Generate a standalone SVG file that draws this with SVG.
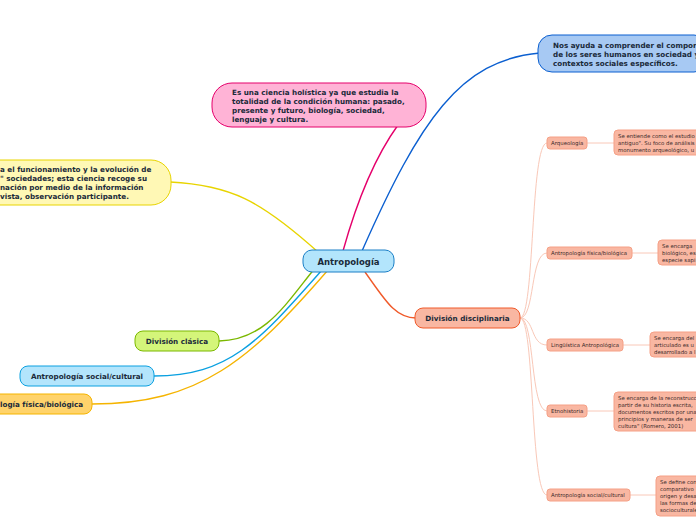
<svg xmlns="http://www.w3.org/2000/svg" width="696" height="520" viewBox="0 0 696 520">
<style>
text{font-family:"DejaVu Sans","Liberation Sans",sans-serif;font-weight:bold;fill:#1a2a3a}
.m{font-size:7.2px}
.s{font-size:5.4px;font-weight:normal;fill:#3a2a2a}
.sub{fill:#f9b7a2;stroke:#f5a086;stroke-width:1}
.sl{fill:none;stroke:#f9c8b8;stroke-width:1}
</style>
<rect width="696" height="520" fill="#fff"/>
<g id="connectors" fill="none" stroke-width="1.4">
<path d="M362 251 C420 120 460 60 540 53" stroke="#0b5fd0"/>
<path d="M343 251 C360 190 380 150 398 125" stroke="#e5006b"/>
<path d="M318 252 C260 200 230 185 170 182" stroke="#e8d400"/>
<path d="M315 268 C285 305 265 340 219 341" stroke="#7bb800"/>
<path d="M322 270 C260 340 230 376 154 376" stroke="#0aa0e0"/>
<path d="M328 270 C250 360 200 404 92 404" stroke="#f5b400"/>
<path d="M365 272 C385 300 395 318 416 318" stroke="#f05a2a"/>
<path class="sl" d="M520 318 C535 318 530 143 547 143"/>
<path class="sl" d="M520 318 C535 318 530 253 547 253"/>
<path class="sl" d="M520 318 C535 318 530 345 547 345"/>
<path class="sl" d="M520 318 C535 318 530 411 547 411"/>
<path class="sl" d="M520 318 C535 318 530 495 547 495"/>
<path class="sl" d="M587 143 H614 M632 253 H658 M623 345 H650 M587 411 H614 M630 495 H656"/>
</g>
<g id="center"><rect x="303" y="250" width="91" height="22" rx="9" fill="#b3e5fc" stroke="#1a7fc6" stroke-width="1"/><text x="348.5" y="264.5" text-anchor="middle" style="font-size:8.5px">Antropología</text></g>
<g id="n-blue"><rect x="538" y="35" width="170" height="37" rx="14" fill="#a7c9f3" stroke="#0b5fd0" stroke-width="1"/><text class="m" x="553" y="48">Nos ayuda a comprender el comportamiento</text><text class="m" x="553" y="57">de los seres humanos en sociedad y en</text><text class="m" x="553" y="66">contextos sociales específicos.</text></g>
<g id="n-pink"><rect x="212" y="83" width="214" height="44" rx="20" fill="#ffb3d6" stroke="#e5006b" stroke-width="1"/><text class="m" x="232" y="95">Es una ciencia holística ya que estudia la</text><text class="m" x="232" y="104">totalidad de la condición humana: pasado,</text><text class="m" x="232" y="113">presente y futuro, biología, sociedad,</text><text class="m" x="232" y="122">lenguaje y cultura.</text></g>
<g id="n-yellow"><rect x="-40" y="160" width="211" height="45" rx="20" fill="#fff8b5" stroke="#e8d400" stroke-width="1"/><text class="m" x="0" y="172">a el funcionamiento y la evolución de</text><text class="m" x="0" y="181">" sociedades; esta ciencia recoge su</text><text class="m" x="0" y="190">nación por medio de la información</text><text class="m" x="0" y="199">vista, observación participante.</text></g>
<g id="n-green"><rect x="135" y="331" width="84" height="20" rx="8" fill="#d4f57a" stroke="#7bb800" stroke-width="1"/><text class="m" x="177" y="344" text-anchor="middle">División clásica</text></g>
<g id="n-lblue"><rect x="20" y="366" width="134" height="20" rx="8" fill="#b3e5fc" stroke="#0aa0e0" stroke-width="1"/><text class="m" x="87" y="379" text-anchor="middle">Antropología social/cultural</text></g>
<g id="n-orange"><rect x="-40" y="394" width="132" height="20" rx="8" fill="#ffd36b" stroke="#f5b400" stroke-width="1"/><text class="m" x="0" y="407">logía física/biológica</text></g>
<g id="n-div"><rect x="415" y="308" width="105" height="20" rx="8" fill="#f9b7a2" stroke="#f05a2a" stroke-width="1"/><text class="m" x="467.5" y="321" text-anchor="middle">División disciplinaria</text></g>
<g id="s1"><rect class="sub" x="547" y="137" width="40" height="12" rx="3"/><text class="s" x="551" y="145">Arqueología</text><rect class="sub" x="614" y="130" width="95" height="25" rx="4"/><text class="s" x="618" y="138">Se entiende como el estudio de "lo</text><text class="s" x="618" y="145">antiguo". Su foco de análisis es el</text><text class="s" x="618" y="152">monumento arqueológico, u</text></g>
<g id="s2"><rect class="sub" x="547" y="247" width="85" height="12" rx="3"/><text class="s" x="551" y="255">Antropología física/biológica</text><rect class="sub" x="658" y="240" width="50" height="25" rx="4"/><text class="s" x="662" y="248">Se encarga</text><text class="s" x="662" y="255">biológico, es</text><text class="s" x="662" y="262">especie sapi</text></g>
<g id="s3"><rect class="sub" x="547" y="339" width="76" height="12" rx="3"/><text class="s" x="551" y="347">Lingüística Antropológica</text><rect class="sub" x="650" y="332" width="58" height="25" rx="4"/><text class="s" x="654" y="340">Se encarga del</text><text class="s" x="654" y="347">articulado es u</text><text class="s" x="654" y="354">desarrollado a l</text></g>
<g id="s4"><rect class="sub" x="547" y="405" width="40" height="12" rx="3"/><text class="s" x="551" y="413">Etnohistoria</text><rect class="sub" x="614" y="392" width="95" height="39" rx="4"/><text class="s" x="618" y="400">Se encarga de la reconstrucción</text><text class="s" x="618" y="407">partir de su historia escrita,</text><text class="s" x="618" y="414">documentos escritos por una</text><text class="s" x="618" y="421">principios y maneras de ser</text><text class="s" x="618" y="428">cultura" (Romero, 2001)</text></g>
<g id="s5"><rect class="sub" x="547" y="489" width="83" height="12" rx="3"/><text class="s" x="551" y="497">Antropología social/cultural</text><rect class="sub" x="656" y="476" width="52" height="40" rx="4"/><text class="s" x="660" y="484">Se define con</text><text class="s" x="660" y="491">comparativo</text><text class="s" x="660" y="498">origen y desa</text><text class="s" x="660" y="505">las formas de</text><text class="s" x="660" y="512">socioculturale</text></g>
</svg>
